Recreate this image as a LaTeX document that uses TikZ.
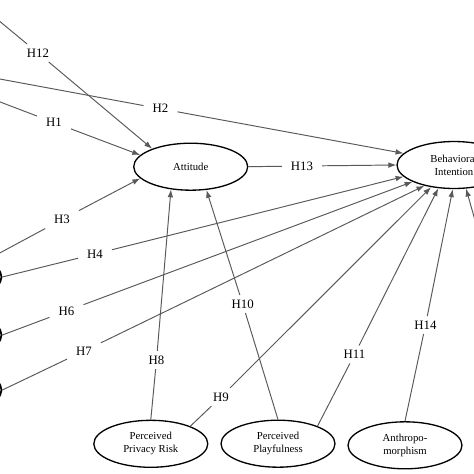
\documentclass[tikz,border=0pt]{standalone}
\usepackage{fontspec}
\setmainfont{Liberation Serif}
\usetikzlibrary{shapes.geometric, arrows.meta}

\begin{document}
\begin{tikzpicture}[x=0.02cm, y=-0.02cm,
    main/.style = {draw, ellipse, line width=0.75pt, minimum width=2.28cm, minimum height=0.94cm, inner sep=0pt, align=center, font=\fontsize{6.1}{7.4}\selectfont},
    hyp/.style = {fill=white, inner xsep=5pt, inner ysep=2.5pt, font=\fontsize{7.3}{8.5}\selectfont},
    link/.style = {draw=black!65, line width=0.55pt},
    arr/.style = {link, -{Latex[length=4.5pt, width=3.2pt]}}]
    \useasboundingbox (0,0) rectangle (474,474);
    \clip (0,0) rectangle (474,474);
    % constructs
    \node[main] (att) at (190.7,166.7) {Attitude};
    \node[main] (bi) at (454,165) {Behavioral\\Intention};
    \node[main] (ppr) at (150.8,443.8) {Perceived\\Privacy Risk};
    \node[main] (ppl) at (278,443.7) {Perceived\\Playfulness};
    \node[main] (anth) at (405,445.3) {Anthropo-\\morphism};
    % constructs cut off by the left edge
    \node[main, line width=1pt] (x4) at (-55.5,277) {};
    \node[main, line width=1pt] (x6) at (-55.5,335) {};
    \node[main, line width=1pt] (x7) at (-55.5,390) {};
    % lines that come in from outside
    \coordinate (x12) at (-30,-3.2);
    \coordinate (x2) at (-30,73.5);
    \coordinate (x1) at (-30,90.5);
    \coordinate (x3) at (-30,269);
    \coordinate (xr) at (482,245);
    % hypothesis labels
    \node[hyp] (h12) at (38,53) {H12};
    \node[hyp] (h2) at (160.5,108.7) {H2};
    \node[hyp] (h1) at (54,122.5) {H1};
    \node[hyp] (h3) at (62,219.5) {H3};
    \node[hyp] (h4) at (95,254) {H4};
    \node[hyp] (h6) at (66.5,311) {H6};
    \node[hyp] (h7) at (84,351) {H7};
    \node[hyp] (h8) at (156.5,360) {H8};
    \node[hyp] (h9) at (221,397) {H9};
    \node[hyp] (h10) at (242.7,304) {H10};
    \node[hyp] (h11) at (354.5,354.5) {H11};
    \node[hyp] (h13) at (302,166) {H13};
    \node[hyp] (h14) at (425.5,325) {H14};
    % paths
    \draw[link] (x12) -- (h12);
    \draw[arr] (h12) -- (att.155);
    \draw[link] (x2) -- (h2);
    \draw[arr] (h2) -- (bi.167.5);
    \draw[link] (x1) -- (h1);
    \draw[arr] (h1) -- (att.167.5);
    \draw[link] (x3) -- (h3);
    \draw[arr] (h3) -- (att.193.4);
    \draw[link] (x4.east) -- (h4);
    \draw[arr] (h4) -- (bi.193.5);
    \draw[link] (x6.east) -- (h6);
    \draw[arr] (h6) -- (bi.202);
    \draw[link] (x7.east) -- (h7);
    \draw[arr] (h7) -- (bi.215);
    \draw[link] (ppr.north) -- (h8);
    \draw[arr] (h8) -- (att.229.4);
    \draw[link] (ppr.24) -- (h9);
    \draw[arr] (h9) -- (bi.224);
    \draw[link] (ppl.north) -- (h10);
    \draw[arr] (h10) -- (att.304.8);
    \draw[link] (ppl.24) -- (h11);
    \draw[arr] (h11) -- (bi.236.8);
    \draw[link] (att.east) -- (h13);
    \draw[arr] (h13) -- (bi.west);
    \draw[link] (anth.north) -- (h14);
    \draw[arr] (h14) -- (bi.267.8);
    \draw[arr] (xr) -- (bi.297.5);
\end{tikzpicture}
\end{document}
